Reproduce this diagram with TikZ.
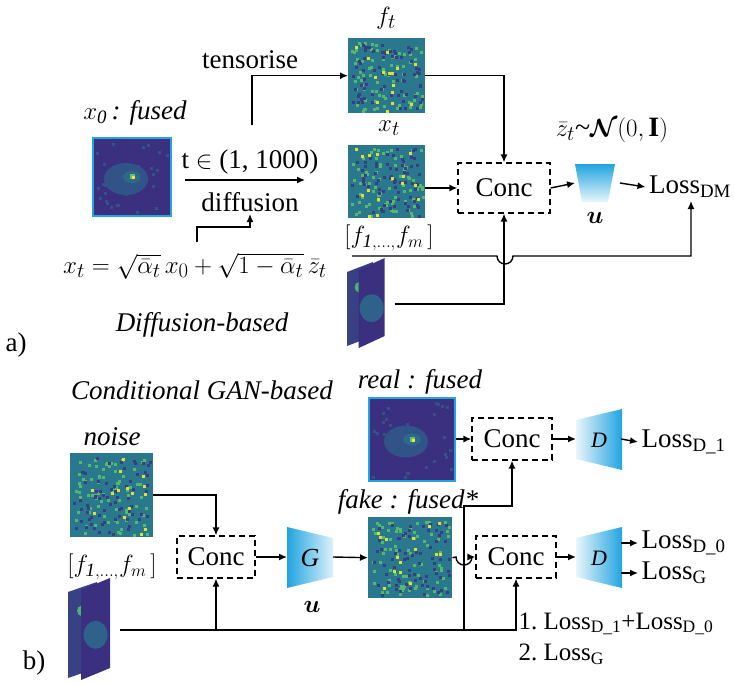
\documentclass[tikz,border=0pt]{standalone}
\usepackage{fontspec}
\usepackage{amsmath,amssymb,bm}
\setmainfont{Liberation Serif}
\usetikzlibrary{calc,arrows.meta}
\definecolor{vdark}{HTML}{3B2F80}
\definecolor{vteal}{HTML}{2A788E}
\definecolor{vgreen}{HTML}{5EC962}
\definecolor{vyellow}{HTML}{FDE725}
\definecolor{vblue}{HTML}{21A4E0}
\tikzset{
  conc/.style={draw, dash pattern=on 6pt off 4pt, line width=1.2pt, minimum width=92pt, minimum height=50pt, font=\fontsize{27}{29}\selectfont},
  arrow/.style={line width=1.4pt,-{Latex[length=8pt,width=7pt]}},
  lbl/.style={font=\fontsize{27}{29}\selectfont},
  ilbl/.style={font=\fontsize{27}{29}\selectfont\itshape},
}
% random texture inside a box: x, y, w, h, dot colour, count
\newcommand{\speckle}[6]{%
  \foreach \k in {1,...,#6}
    \fill[#5] ({#1+0.04*#3+0.92*#3*rnd},{#2+0.04*#4+0.92*#4*rnd}) rectangle ++(3,3);}
\newcommand{\noiseimg}[5]{% name, x, y, w, h
  \node[draw=none, fill=vteal, minimum width=#4pt, minimum height=#5pt, inner sep=0pt, anchor=north west] (#1) at (#2,#3) {};
  \speckle{#2}{#3}{#4}{#5}{vgreen!80!vteal}{80}
  \speckle{#2}{#3}{#4}{#5}{vdark!80!vteal}{70}
  \speckle{#2}{#3}{#4}{#5}{vyellow!80!vgreen}{15}}
\newcommand{\fusedimg}[5]{% name, x, y, w, h
  \node[draw=vblue, line width=2pt, fill=vdark, minimum width=#4pt, minimum height=#5pt, inner sep=0pt, anchor=north west] (#1) at (#2,#3) {};
  \fill[vteal!50!vdark] ($(#1.center)+(-6,2)$) ellipse (22pt and 16pt);
  \fill[vteal!80!vdark] (#1.center) ellipse (9pt and 6pt);
  \fill[vgreen] ($(#1.center)+(-2,-3)$) rectangle ++(5,5);
  \fill[vyellow] ($(#1.center)+(0,-1)$) rectangle ++(3,3);
  \speckle{#2}{#3}{#4}{#5}{vteal!50!vdark}{30}}
\newcommand{\stackimg}[5]{% name, x, y, w, h (back slice top left)
  \fill[vdark!75!vteal] (#2,#3+10) -- (#2+#4,#3) -- (#2+#4,#3+#5-10) -- (#2,#3+#5) -- cycle;
  \fill[vgreen!70!vteal] (#2+0.45*#4,#3+0.3*#5) ellipse (4pt and 5pt);
  \fill[vdark] (#2+0.45*#4,#3+8) -- (#2+1.45*#4,#3-4) -- (#2+1.45*#4,#3+#5-10) -- (#2+0.45*#4,#3+#5+2) -- cycle;
  \fill[vteal!70!vdark] (#2+0.95*#4,#3+0.55*#5) ellipse (12pt and 14pt);
  \coordinate (#1) at (#2+1.45*#4+10,#3+0.5*#5);}
\newcommand{\trapfwd}[4]{% name, x, y, label : wide left, narrow right
  \shade[left color=vblue, right color=vblue!15] (#2,#3) -- (#2+46,#3+11) -- (#2+46,#3+50) -- (#2,#3+61) -- cycle;
  \node[font=\fontsize{26}{28}\selectfont\itshape] (#1) at (#2+23,#3+31) {#4};}
\newcommand{\trapbwd}[4]{% name, x, y, label : narrow left, wide right
  \shade[left color=vblue!10, right color=vblue] (#2,#3+11) -- (#2+46,#3) -- (#2+46,#3+61) -- (#2,#3+50) -- cycle;
  \node[font=\fontsize{22}{24}\selectfont\itshape] (#1) at (#2+23,#3+31) {#4};}

\begin{document}
\begin{tikzpicture}[x=1pt, y=-1pt]
  \useasboundingbox (0,0) rectangle (734,685);
  \pgfmathsetseed{7}

  % ---------- a) diffusion ----------
  \noiseimg{ft}{348}{38}{77}{75}
  \noiseimg{xt}{348}{145}{77}{73}
  \fusedimg{xz}{92}{137}{78}{78}
  \stackimg{fa}{347}{262}{26}{84}
  \node[font=\fontsize{30}{32}\selectfont] (ftl) at (386,18) {$f_t$};
  \node[font=\fontsize{30}{32}\selectfont] (xtl) at (389,128) {$x_t$};
  \node[ilbl] (xzl) at (135,113) {$x_{\mathit{0}}$\,: fused};
  \node[lbl] (tens) at (250,60) {tensorise};
  \node[lbl] (trng) at (250,162) {t $\in$ (1, 1000)};
  \node[lbl] (diff) at (250,202) {diffusion};
  \node[font=\fontsize{29}{31}\selectfont] (form) at (195,266) {$x_t=\sqrt{\bar{\alpha}_t}\,x_0+\sqrt{1-\bar{\alpha}_t}\,\bar{z}_t$};
  \node[lbl] (fml) at (389,238) {$[f_{\mathit{1,\ldots,}}f_m\,]$};
  \node[ilbl] (dbas) at (202,325) {Diffusion-based};
  \node[lbl] (la) at (16,345) {a)};
  \node[conc] (ca) at (504,188) {Conc};
  \shade[top color=vblue, bottom color=vblue!10] (575,164) -- (615,164) -- (608,202) -- (582,202) -- cycle;
  \coordinate (ua) at (595,183);
  \node[font=\fontsize{30}{32}\selectfont] (ual) at (595,218) {$\bm{u}$};
  \node[lbl] (ldm) at (690,187) {Loss\textsubscript{DM}};
  \node[font=\fontsize{28}{30}\selectfont] (zn) at (612,130) {$\bar{z}_t$\char`~$\bm{\mathcal{N}}(0,\mathbf{I})$};

  \coordinate (tb) at (252,125);
  \coordinate (fb) at (197,242);
  \draw[arrow] (tb) |- (ft.west);
  \draw[arrow] (185,180) -- (305,180);
  \draw[arrow] (fb) -- (197,227) -| (250,214);
  \draw[arrow] (ft.east) -| (ca.north);
  \draw[arrow] (xt.east |- ca.west) -- (ca.west);
  \draw[arrow] (ca.east) -- (575,183);
  \draw[arrow] (620,183) -- (ldm.west);
  \draw[arrow] (fa) -| (ca.south);
  \draw[arrow] (352,256) -- (497,256) arc (180:0:8) -- (691,256) -- (691,201);

  % ---------- b) conditional GAN ----------
  \noiseimg{nz}{70}{453}{83}{84}
  \noiseimg{fk}{368}{517}{84}{81}
  \fusedimg{rl}{368}{397}{86}{83}
  \stackimg{fb2}{68}{582}{29}{96}
  \node[ilbl] (cgan) at (202,390) {Conditional GAN-based};
  \node[ilbl] (rll) at (420,382) {real : fused};
  \node[ilbl] (nzl) at (112,437) {noise};
  \node[lbl] (fml2) at (112,567) {$[f_{\mathit{1,\ldots,}}f_m\,]$};
  \node[ilbl] (fkl) at (408,502) {fake : fused*};
  \node[lbl] (lb) at (34,663) {b)};
  \node[conc, minimum width=80pt, minimum height=42pt] (c1) at (512,439) {Conc};
  \node[conc, minimum width=78pt, minimum height=42pt] (c2) at (216,557) {Conc};
  \node[conc, minimum width=80pt, minimum height=42pt] (c3) at (516,557) {Conc};
  \trapfwd{gen}{287}{527}{G}
  \trapbwd{d1}{576}{409}{D}
  \trapbwd{d2}{576}{527}{D}
  \node[font=\fontsize{30}{32}\selectfont] (ubl) at (312,607) {$\bm{u}$};
  \node[lbl, anchor=west] (ld1) at (638,442) {Loss\textsubscript{D\_1}};
  \node[lbl, anchor=west] (ld0) at (638,543) {Loss\textsubscript{D\_0}};
  \node[lbl, anchor=west] (lg) at (638,573) {Loss\textsubscript{G}};
  \node[lbl, anchor=west, font=\fontsize{25}{27}\selectfont] (s1) at (515,624) {1.\ Loss\textsubscript{D\_1}+Loss\textsubscript{D\_0}};
  \node[lbl, anchor=west, font=\fontsize{25}{27}\selectfont] (s2) at (515,654) {2.\ Loss\textsubscript{G}};

  \draw[arrow] (rl.east |- c1.west) -- (c1.west);
  \draw[arrow] (c1.east) -- (576,439);
  \draw[arrow] (621,439) -- (ld1.west);
  \draw[arrow] (nz.east |- 0,495) -| (c2.north);
  \draw[arrow] (c2.east) -- (287,557);
  \draw[arrow] (333,557) -- (fk.west);
  \draw[arrow] (fk.east) -- (456,557) arc (180:0:8) -- (c3.west);
  \draw[arrow] (c3.east) -- (576,557);
  \draw[arrow] (621,543) -- (ld0.west);
  \draw[arrow] (621,573) -- (lg.west);
  \draw[arrow] (fb2) -| (c3.south);
  \draw[arrow] (c2.south |- fb2) -- (c2.south);
  \draw[arrow] (464,630) -- (464,506) -| (c1.south);
\end{tikzpicture}
\end{document}
